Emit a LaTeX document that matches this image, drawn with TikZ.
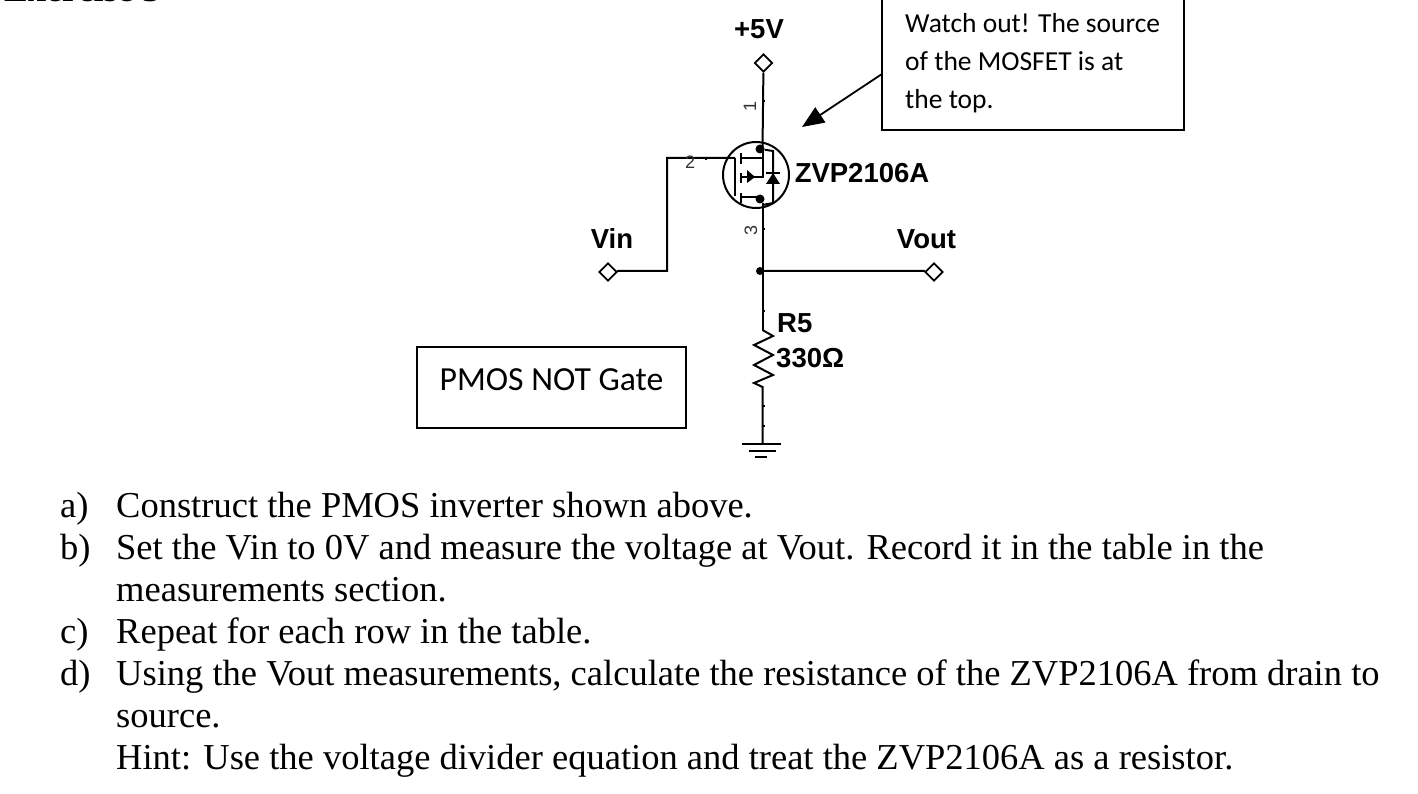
\documentclass[tikz,border=0pt]{standalone}
\usepackage{fontspec}
\setmainfont{Liberation Serif}
\newfontfamily\lblfont{Liberation Sans}
\newfontfamily\boxfont{Carlito}
\usetikzlibrary{shapes.geometric,arrows.meta}
\tikzset{
 wire/.style={line width=2pt,black},
 port/.style={diamond,draw,line width=1.8pt,fill=white,minimum width=18pt,minimum height=18pt,inner sep=0pt},
 dot/.style={circle,fill=black,inner sep=0pt,minimum size=9pt},
 lbl/.style={font=\lblfont\bfseries\fontsize{27.5}{30}\selectfont,inner sep=0pt,anchor=base},
 pin/.style={font=\lblfont\fontsize{18}{19}\selectfont,inner sep=0pt,text=black!80},
 note/.style={font=\boxfont\fontsize{27.5}{37.5}\selectfont,inner sep=0pt,anchor=base west},
 bodytext/.style={font=\fontsize{36.5}{42}\selectfont,inner sep=0pt,anchor=base west},
}
\begin{document}
\begin{tikzpicture}[x=1pt,y=-1pt]
\useasboundingbox (0,0) rectangle (1418,794);
\clip (0,0) rectangle (1418,794);
\fill[white] (0,0) rectangle (1418,794);
\node[font=\bfseries\fontsize{36}{40}\selectfont,inner sep=0pt,anchor=base west] (title) at (4,2) {Exercise 3};
% boxes
\node[draw,line width=1.2pt,minimum width=269pt,minimum height=81pt,inner sep=0pt] (pmos) at (551.5,387.5) {};
\node[font=\boxfont\fontsize{33.7}{36}\selectfont,inner sep=0pt] (pmost) at (551.5,380) {PMOS NOT Gate};
\draw[line width=1.2pt] (882,-5) rectangle (1184,130);
\coordinate (notebox) at (882,74);
\node[note] (n1) at (905,33) {Watch out! The source};
\node[note] (n2) at (905,71) {of the MOSFET is at};
\node[note] (n3) at (905,109) {the top.};
\coordinate (arrowend) at (802,127);
\draw[line width=1.8pt,-{Triangle[length=22pt,width=18pt]}] (notebox) -- (arrowend);
% ports
\node[port] (vdd) at (763.5,63) {};
\node[port] (vin) at (608,272) {};
\node[port] (vout) at (934,272) {};
\node[dot] (sdot) at (760,149) {};
\node[dot] (ddot) at (760,199) {};
\node[dot,minimum size=8pt] (junc) at (760,271) {};
\coordinate (out) at (762.5,271);
\coordinate (gcorner) at (667,271);
\coordinate (gtop) at (667,158);
\coordinate (gate) at (735,158);
\coordinate (rtop) at (762.5,330);
\coordinate (rbot) at (762.5,387);
\coordinate (gnd) at (762.5,444);
% wires
\draw[wire] (vdd) -- (762.5,149);
\draw[wire] (762.5,203) -- (rtop);
\draw[wire] (out) -- (vout.west |- out) -- (vout);
\draw[wire] (vin) -- (vin.east |- gcorner) -- (gcorner) -- (gtop) -- (gate);
% mosfet
\node[draw,circle,line width=2pt,minimum size=66pt,inner sep=0pt] (mos) at (756,175) {};
\draw[wire] (gate) -- (735,196);
\draw[wire] (741,153) -- (741,164);
\draw[wire] (741,173) -- (741,183);
\draw[wire] (741,193) -- (741,203);
\draw[wire] (741,158) -- (762.5,158);
\draw[wire] (741,197) -- (760,197);
\draw[wire] (762.5,149) -- (762.5,177) -- (741,177);
\fill (747,170) -- (755,177) -- (747,183) -- cycle;
\draw[wire] (sdot) -- (773,151) -- (773,203) -- (762.5,205);
\fill (773,173) -- (780,184) -- (766,184) -- cycle;
\draw[wire] (766,173) -- (780,173);
% resistor and ground
\draw[wire,line join=miter] (rtop) -- (773,336) -- (754,345) -- (773,355) -- (754,365) -- (773,375) -- (754,383) -- (rbot) -- (gnd);
\draw[wire] (742,444) -- (781,444);
\draw[wire] (749,451) -- (776,451);
\draw[wire] (755,457) -- (767,457);
% pin ticks
\foreach \yy in {101,229,311,406,426} \draw[line width=1.2pt] (762.5,\yy) -- (765,\yy);
\draw[line width=1.2pt] (706,157) -- (706,160);
% labels
\node[pin,rotate=90] (p1) at (750,106) {1};
\node[pin,rotate=90] (p3) at (751,230) {3};
\node[pin] (p2) at (690,162) {2};
\node[lbl] (l5v) at (759,39) {+5V};
\node[lbl] (lz) at (862,183) {ZVP2106A};
\node[lbl] (lvin) at (612,249) {Vin};
\node[lbl] (lvout) at (926.5,249) {Vout};
\node[lbl,anchor=base west] (lr) at (777,332) {R5};
\node[lbl,anchor=base west] (lv) at (776,367) {330Ω};
% body text
\node[bodytext] (a0) at (60,517) {a)};
\node[bodytext] (a1) at (116,517) {Construct the PMOS inverter shown above.};
\node[bodytext] (b0) at (60,559) {b)};
\node[bodytext] (b1) at (116,559) {Set the Vin to 0V and measure the voltage at Vout. Record it in the table in the};
\node[bodytext] (b2) at (116,601) {measurements section.};
\node[bodytext] (c0) at (60,643) {c)};
\node[bodytext] (c1) at (116,643) {Repeat for each row in the table.};
\node[bodytext] (d0) at (60,685) {d)};
\node[bodytext] (d1) at (116,685) {Using the Vout measurements, calculate the resistance of the ZVP2106A from drain to};
\node[bodytext] (d2) at (116,727) {source.};
\node[bodytext] (d3) at (116,769) {Hint: Use the voltage divider equation and treat the ZVP2106A as a resistor.};
\end{tikzpicture}
\end{document}
